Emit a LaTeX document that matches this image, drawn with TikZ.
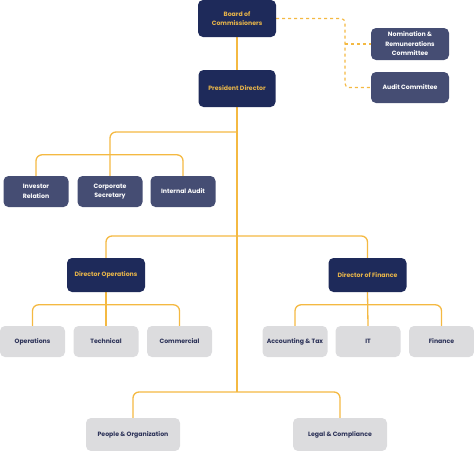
\documentclass[tikz,border=0pt]{standalone}
\usepackage{fontspec}
\setmainfont{Poppins}
\usetikzlibrary{positioning, calc, backgrounds}
\definecolor{navy}{HTML}{1E2A5A}
\definecolor{slate}{HTML}{454D73}
\definecolor{boxgray}{HTML}{DCDCDE}
\definecolor{gold}{HTML}{E8B54A}
\definecolor{wire}{HTML}{F4B942}
\definecolor{inkgray}{HTML}{2B3157}
\tikzset{
  headbox/.style={fill=navy, rounded corners=5pt, text=gold, font=\fontsize{6.2}{9.5}\selectfont\bfseries, align=center, inner sep=0pt},
  unitbox/.style={fill=slate, rounded corners=5pt, text=white, font=\fontsize{6.2}{9.5}\selectfont\bfseries, align=center, inner sep=0pt},
  deptbox/.style={fill=boxgray, rounded corners=5pt, text=inkgray, font=\fontsize{6.2}{9.5}\selectfont\bfseries, align=center, inner sep=0pt},
  wireline/.style={draw=wire, line width=1.3pt, rounded corners=6pt},
  dashline/.style={draw=wire, line width=1.1pt, dash pattern=on 3pt off 3pt, rounded corners=4pt}
}

\begin{document}
\begin{tikzpicture}[x=1pt, y=-1pt]
\useasboundingbox (0,0) rectangle (474,450);
% top
\node[headbox, minimum width=78pt, minimum height=37pt] (board) at (237,18.5) {Board of\\Commissioners};
\node[headbox, minimum width=77pt, minimum height=37pt] (pres) at (237,88.5) {President Director};
\node[unitbox, minimum width=78pt, minimum height=32pt] (nom) at (410,44) {Nomination \&\\Remunerations\\Committee};
\node[unitbox, minimum width=78pt, minimum height=31pt] (audit) at (410,87.5) {Audit Committee};
% staff units
\node[unitbox, minimum width=65pt, minimum height=31pt] (inv) at (36,191.5) {Investor\\Relation};
\node[unitbox, minimum width=65pt, minimum height=31pt] (corp) at (110,191.5) {Corporate\\Secretary};
\node[unitbox, minimum width=65pt, minimum height=31pt] (ia) at (183,191.5) {Internal Audit};
% directors
\node[headbox, minimum width=78pt, minimum height=34pt] (dops) at (106,275) {Director Operations};
\node[headbox, minimum width=78pt, minimum height=34pt] (dfin) at (367.5,275) {Director of Finance};
% departments
\node[deptbox, minimum width=65pt, minimum height=31pt] (oper) at (32.5,341.5) {Operations};
\node[deptbox, minimum width=65pt, minimum height=31pt] (tech) at (106,341.5) {Technical};
\node[deptbox, minimum width=65pt, minimum height=31pt] (comm) at (179.5,341.5) {Commercial};
\node[deptbox, minimum width=65pt, minimum height=31pt] (acct) at (295,341.5) {Accounting \& Tax};
\node[deptbox, minimum width=65pt, minimum height=31pt] (it) at (368,341.5) {IT};
\node[deptbox, minimum width=65pt, minimum height=31pt] (fin) at (441.5,341.5) {Finance};
\node[deptbox, minimum width=94pt, minimum height=33pt] (people) at (133,434.5) {People \& Organization};
\node[deptbox, minimum width=94pt, minimum height=33pt] (legal) at (340,434.5) {Legal \& Compliance};
% junctions
\coordinate (trunk) at (237,392);
\coordinate (staff) at (237,132);
\coordinate (dirs) at (237,236);
\coordinate (dash) at (345,44);
% connectors
\begin{scope}[on background layer]
\draw[wireline] (board.south) -- (trunk);
\draw[wireline] (staff) -| (corp.north);
\draw[wireline] (inv.north) |- ($(corp.north)+(0,-21)$) -| (ia.north);
\draw[wireline] (dops.north) |- (dirs) -| (dfin.north);
\draw[wireline] (dops.south) -- (tech.north);
\draw[wireline] (oper.north) |- ($(tech.north)+(0,-21)$) -| (comm.north);
\draw[wireline] (dfin.south) -- (it.north);
\draw[wireline] (acct.north) |- ($(it.north)+(0,-21)$) -| (fin.north);
\draw[wireline] (people.north) |- (trunk) -| (legal.north);
\draw[dashline] (board.east) -| (dash) |- (audit.west);
\draw[dashline] (dash) -- (nom.west);
\end{scope}
\end{tikzpicture}
\end{document}
